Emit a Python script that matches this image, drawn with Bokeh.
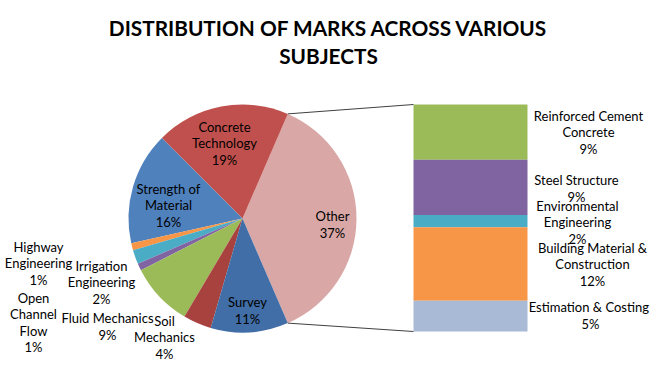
import math
from bokeh.plotting import figure
from bokeh.models import Range1d
from bokeh.core.properties import value
from bokeh.embed import file_html
from bokeh.resources import INLINE

# ---------------- data ----------------
title_lines = ["DISTRIBUTION OF MARKS ACROSS VARIOUS", "SUBJECTS"]

pie_names = ["Other", "Concrete\nTechnology", "Strength of\nMaterial", "Highway\nEngineering",
             "Irrigation\nEngineering", "Open\nChannel\nFlow", "Fluid Mechanics",
             "Soil\nMechanics", "Survey"]
pie_values = [37, 19, 16, 1, 2, 1, 9, 4, 11]
pie_colors = ["#D9A7A6", "#C0504D", "#4F81BD", "#F79646", "#4BACC6", "#8064A2",
              "#9BBB59", "#A8423F", "#416EA6"]

bar_names = ["Reinforced Cement\nConcrete", "Steel Structure", "Environmental\nEngineering",
             "Building Material &\nConstruction", "Estimation  & Costing"]
bar_values = [9, 9, 2, 12, 5]
bar_colors = ["#9BBB59", "#8064A2", "#4BACC6", "#F79646", "#A9BAD6"]

# ---------------- layout (pixels, y measured from top) ----------------
W, H = 657, 365
cx, cy, R = 242, 218, 114
bar_left, bar_right, bar_top, bar_bottom = 413, 527, 104, 331
pie_label_pos = [(332, 224), (224, 143), (168, 205), (38, 263), (101, 282),
                 (33, 322), (107, 326), (164, 337), (247, 310)]
bar_label_pos = [(588, 132), (576, 188), (577, 222), (592, 264), (590, 315)]

def Y(py):
    return H - py

p = figure(width=W, height=H, x_range=Range1d(0, W), y_range=Range1d(0, H),
           x_axis_type=None, y_axis_type=None, toolbar_location=None,
           output_backend="svg", min_border=0, outline_line_color=None)
p.background_fill_color = "white"
p.border_fill_color = "white"

# ---------------- pie ----------------
total = sum(pie_values)
other_half = pie_values[0] / total * math.pi
starts, ends = [], []
a = -other_half
for v in pie_values:
    starts.append(a)
    a += v / total * 2 * math.pi
    ends.append(a)

p.wedge(x=[cx] * len(pie_values), y=[Y(cy)] * len(pie_values), radius=R,
        start_angle=starts, end_angle=ends, fill_color=pie_colors, line_color=None)

# ---------------- bar of "Other" ----------------
bar_total = sum(bar_values)
scale = (bar_bottom - bar_top) / bar_total
tops, bottoms = [], []
acc = 0
for v in bar_values:
    tops.append(Y(bar_top + acc * scale))
    acc += v
    bottoms.append(Y(bar_top + acc * scale))
p.quad(left=[bar_left] * len(bar_values), right=[bar_right] * len(bar_values),
       top=tops, bottom=bottoms, fill_color=bar_colors, line_color=None)

# ---------------- connector lines ----------------
ex = cx + R * math.cos(other_half)
ey = R * math.sin(other_half)
p.segment(x0=[ex, ex], y0=[Y(cy) + ey, Y(cy) - ey], x1=[bar_left, bar_left],
          y1=[Y(bar_top), Y(bar_bottom)], line_color="#404040", line_width=1)

# ---------------- labels ----------------
font = value("Lato")
lab_txt = [f"{n}\n{v}%" for n, v in zip(pie_names, pie_values)]
p.text(x=[q[0] for q in pie_label_pos], y=[Y(q[1]) for q in pie_label_pos], text=lab_txt,
       text_font=font, text_font_size="13px", text_align="center",
       text_baseline="middle", text_line_height=1.03, text_color="#000000")

blab_txt = [f"{n}\n{v}%" for n, v in zip(bar_names, bar_values)]
p.text(x=[q[0] for q in bar_label_pos], y=[Y(q[1]) for q in bar_label_pos], text=blab_txt,
       text_font=font, text_font_size="13px", text_align="center",
       text_baseline="middle", text_line_height=1.03, text_color="#000000")

# ---------------- title ----------------
p.text(x=[328, 328], y=[Y(27), Y(55)], text=title_lines, text_font=font,
       text_font_size="20.8px", text_font_style="bold", text_align="center",
       text_baseline="middle", text_color="#000000")

open("out.html", "w").write(file_html(p, INLINE))
